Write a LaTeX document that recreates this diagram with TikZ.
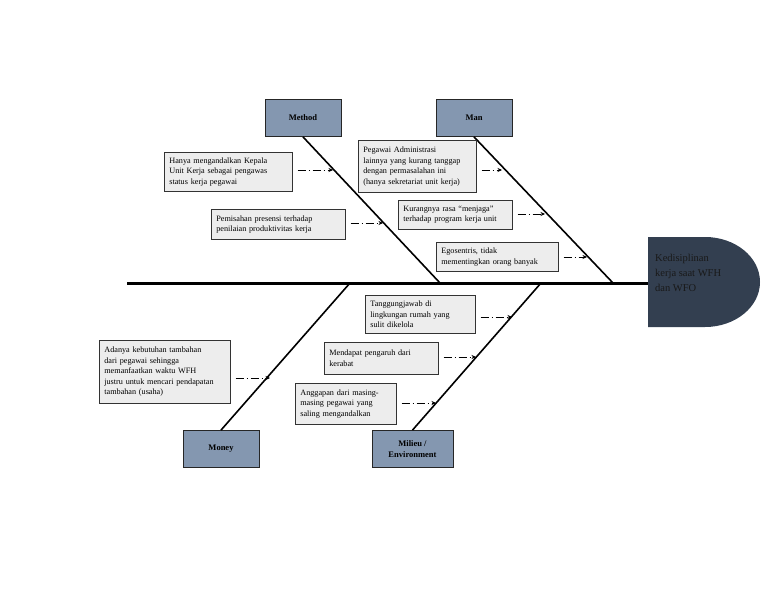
\documentclass[tikz,border=0pt]{standalone}
\usepackage{fontspec}
\setmainfont{Liberation Serif}
\usepackage{tikz}
\usetikzlibrary{arrows.meta,calc,positioning}
\definecolor{bonegrey}{HTML}{8497B0}
\definecolor{causegrey}{HTML}{EDEDED}
\definecolor{headslate}{HTML}{333F50}
\tikzset{
  category/.style = {draw=black!85, fill=bonegrey, line width=0.8pt,
                     font=\fontsize{8.5}{11}\selectfont\bfseries, align=center,
                     minimum width=76pt, minimum height=37pt},
  cause/.style    = {draw=black!80, fill=causegrey, line width=0.7pt,
                     font=\fontsize{8.2}{10.5}\selectfont, align=left,
                     anchor=north west, inner xsep=5pt, inner ysep=2pt},
  bone/.style     = {line width=1.6pt},
  spine/.style    = {line width=3pt},
  hint/.style     = {-{Stealth[length=4.5pt,width=4pt]}, line width=0.6pt,
                     dash pattern=on 8pt off 3pt on 1pt off 3pt, shorten <=5pt},
}

\begin{document}
\begin{tikzpicture}[x=1pt, y=-1pt]
    \useasboundingbox (0,0) rectangle (768,594);
    % head of the fish
    \fill[headslate] (648,237) -- (705,237)
      arc[start angle=90, end angle=-90, x radius=55pt, y radius=45pt]
      -- (648,327) -- cycle;
    \node[anchor=north west, align=left, text=black!90,
          font=\fontsize{10.5}{15}\selectfont, inner sep=0pt]
      (effect) at (655,254) {Kedisiplinan\\kerja saat WFH\\dan WFO};
    % spine
    \coordinate (tail) at (127,283);
    \coordinate (spineend) at (648,283);
    \draw[spine] (tail) -- (spineend);
    % categories
    \node[category] (method) at (303,118) {Method};
    \node[category] (man)    at (474,118) {Man};
    \node[category] (money)  at (221,449) {Money};
    \node[category, minimum width=81pt] (milieu) at (412.5,449) {Milieu /\\Environment};
    \coordinate (jmethod) at (440,283);
    \coordinate (jman)    at (613,283);
    \coordinate (jmoney)  at (350,283);
    \coordinate (jmilieu) at (541,283);
    \draw[bone] (method.south) -- (jmethod);
    \draw[bone] (man.south) -- (jman);
    \draw[bone] (money.north) -- (jmoney);
    \draw[bone] (milieu.north) -- (jmilieu);
    % causes
    \node[cause, text width=118pt, minimum height=39pt] (c1) at (164,152)
      {Hanya mengandalkan Kepala\\Unit Kerja sebagai pengawas\\status kerja pegawai};
    \node[cause, text width=124pt, minimum height=30pt] (c2) at (211,209)
      {Pemisahan presensi terhadap\\penilaian produktivitas kerja};
    \node[cause, text width=108pt, minimum height=52pt] (c3) at (358,140)
      {Pegawai Administrasi\\lainnya yang kurang tanggap\\dengan permasalahan ini\\(hanya sekretariat unit kerja)};
    \node[cause, text width=104pt, minimum height=29pt] (c4) at (398,200)
      {Kurangnya rasa ``menjaga''\\terhadap program kerja unit};
    \node[cause, text width=112pt, minimum height=29pt] (c5) at (436,242)
      {Egosentris, tidak\\mementingkan orang banyak};
    \node[cause, text width=121pt, minimum height=63pt] (c6) at (99,340)
      {Adanya kebutuhan tambahan\\dari pegawai sehingga\\memanfaatkan waktu WFH\\justru untuk mencari pendapatan\\tambahan (usaha)};
    \node[cause, text width=100pt, minimum height=38pt] (c7) at (365,295)
      {Tanggungjawab di\\lingkungan rumah yang\\sulit dikelola};
    \node[cause, text width=104pt, minimum height=32pt] (c8) at (324,342)
      {Mendapat pengaruh dari\\kerabat};
    \node[cause, text width=91pt, minimum height=41pt] (c9) at (295,383)
      {Anggapan dari masing-\\masing pegawai yang\\saling mengandalkan};
    % arrows to the bones
    \coordinate (a1) at (333,170);
    \coordinate (a2) at (383,223);
    \coordinate (a3) at (502,170);
    \coordinate (a4) at (545,214);
    \coordinate (a5) at (587,257);
    \coordinate (a6) at (270,378);
    \coordinate (a7) at (512,317);
    \coordinate (a8) at (476,357);
    \coordinate (a9) at (436,403);
    \draw[hint] (c1.east |- a1) -- (a1);
    \draw[hint] (c2.east |- a2) -- (a2);
    \draw[hint] (c3.east |- a3) -- (a3);
    \draw[hint] (c4.east |- a4) -- (a4);
    \draw[hint] (c5.east |- a5) -- (a5);
    \draw[hint] (c6.east |- a6) -- (a6);
    \draw[hint] (c7.east |- a7) -- (a7);
    \draw[hint] (c8.east |- a8) -- (a8);
    \draw[hint] (c9.east |- a9) -- (a9);
\end{tikzpicture}
\end{document}
